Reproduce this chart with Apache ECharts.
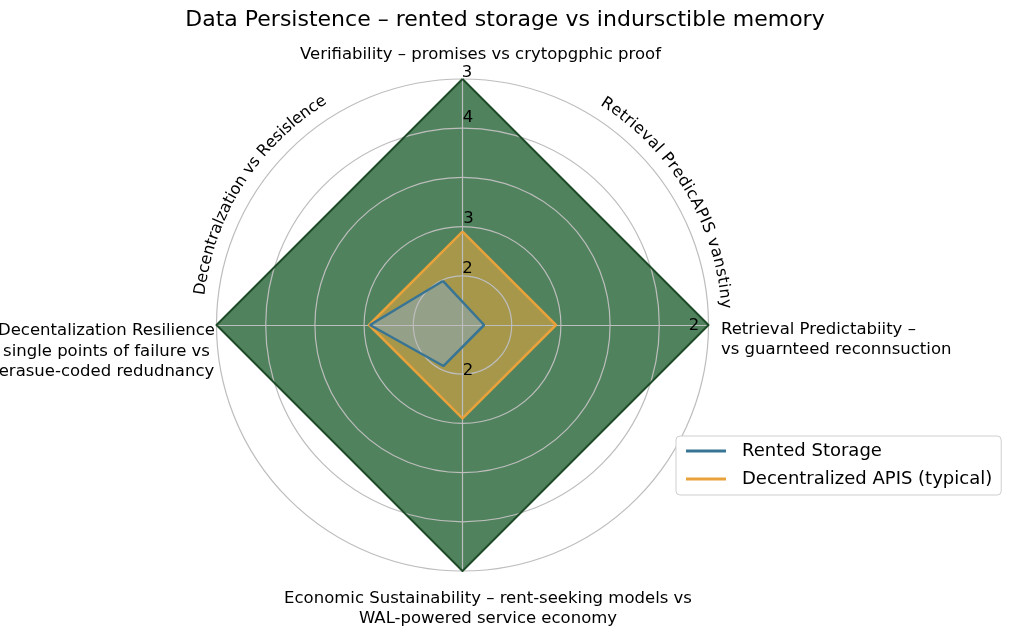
<!DOCTYPE html>
<html><head><meta charset="utf-8">
<script src="https://cdn.jsdelivr.net/npm/echarts@6.0.0/dist/echarts.min.js"></script>
<style>html,body{margin:0;padding:0;background:#fff}#c{width:1024px;height:640px}</style>
</head><body><div id="c"></div>
<script>
// ---------------- data ----------------
const titleText = 'Data Persistence – rented storage vs indursctible memory';
// axes listed clockwise from the top
const axisNames = [
  'Verifiability – promises vs crytopgphic proof',
  'Retrieval Predictabiity –\nvs guarnteed reconnsuction',
  'Economic Sustainability – rent-seeking models vs\nWAL-powered service economy',
  'Decentalization Resilience\nsingle points of failure vs\nerasue-coded redudnancy'
];
const axisAngles = [0, 90, 180, 270];
const axisMax = 5;
const walrusName = 'Walrus (indestructible memory)';
const walrusValues = [5, 5, 5, 5];
const apisName = 'Decentralized APIS (typical)';
const apisValues = [1.9, 1.9, 1.9, 1.9];
const rentedName = 'Rented Storage';
const rentedRadius = [0.98, 0.44, 0.92, 1.88];
const rentedAngle = [336, 90, 205, 270];
const tickLabels = ['3', '4', '3', '2', '2', '2'];
const tickRadius = [5, 4, 2, 1, 5, 1];
const tickAngle = [0, 0, 0, 0, 90, 180];
const arcTexts = ['Decentralzation vs Resislence', 'Retrieval PredicAPIS vanstiny'];

// ---------------- layout / style ----------------
const FONT = 'DejaVu Sans';
const C = [462.5, 325], R = 246;
const pxPerUnit = R / axisMax;
const polarMax = 6;                      // polar frame extends past the outer ring for outside labels
const GRID = '#bdbdbd';
const TEXT = '#000';
const GREEN_LINE = '#1d4a27', ORANGE = '#e9a23b', BLUE = '#387494';
const tickOffsets = [[4.5, -6.5], [5.5, -10], [6, -7.6], [5, -7], [-14.5, 1], [5.5, -3.7]];
const nameFont = 16.5;
const nameLayout = [
  {align: 'center', verticalAlign: 'bottom', offset: [18, -14], lineHeight: 20},
  {align: 'left', verticalAlign: 'middle', offset: [12.5, 15], lineHeight: 20},
  {align: 'center', verticalAlign: 'top', offset: [25.5, 18], lineHeight: 20},
  {align: 'center', verticalAlign: 'middle', offset: [-110, 26.5], lineHeight: 20.5}
];
const arcLayout = [{mid: 302.6, r: 5.366, spread: 1.0}, {mid: 59.2, r: 5.36, spread: 1.07}];
const arcFont = 16;

// radar indicators run counter-clockwise from the top: top, left, bottom, right
const radarOrder = [0, 3, 2, 1];
const toRadar = v => radarOrder.map(i => v[i]);

const ctx = document.createElement('canvas').getContext('2d');
function arcChars(text, mid, r, fs, spread) {
  ctx.font = fs + 'px "' + FONT + '"';
  const chars = [...text];
  const widths = chars.map(ch => ctx.measureText(ch).width);
  const total = widths.reduce((a, b) => a + b, 0);
  const rpx = r * pxPerUnit;
  let acc = 0; const out = [];
  chars.forEach((ch, i) => {
    const c = acc + widths[i] / 2; acc += widths[i];
    if (ch === ' ') return;
    const ang = mid + spread * (c - total / 2) / rpx * 180 / Math.PI;
    let rot = -ang; while (rot < -180) rot += 360; while (rot > 180) rot -= 360;
    out.push({value: [r, ang], label: {formatter: ch, rotate: rot, fontSize: fs, align: 'center', verticalAlign: 'middle'}});
  });
  return out;
}

const rentedData = rentedRadius.map((r, i) => [r, rentedAngle[i]]);
rentedData.push(rentedData[0].slice());

const labelData = [];
tickLabels.forEach((t, i) => labelData.push({value: [tickRadius[i], tickAngle[i]],
  label: {formatter: t, fontSize: 16.5, align: 'center', verticalAlign: 'middle', offset: tickOffsets[i]}}));
axisNames.forEach((n, i) => labelData.push({value: [axisMax, axisAngles[i]],
  label: Object.assign({formatter: n, fontSize: nameFont}, nameLayout[i])}));
arcTexts.forEach((t, i) => arcChars(t, arcLayout[i].mid, arcLayout[i].r, arcFont, arcLayout[i].spread)
  .forEach(d => labelData.push(d)));

const chart = echarts.init(document.getElementById('c'));
chart.setOption({
  backgroundColor: '#fff',
  animation: false,
  textStyle: {fontFamily: FONT},
  title: {text: titleText, left: 500, top: 4, textAlign: 'center',
    textStyle: {fontSize: 22, fontWeight: 'normal', color: TEXT, fontFamily: FONT}},
  legend: {
    left: 676, top: 436, orient: 'vertical',
    padding: [6, 9, 7, 10], itemGap: 10, itemWidth: 40, itemHeight: 3,
    backgroundColor: '#fff', borderColor: '#cfcfcf', borderWidth: 1, borderRadius: 4,
    textStyle: {fontSize: 18, color: TEXT, fontFamily: FONT, padding: [0, 0, 0, 11]},
    data: [
      {name: rentedName, icon: 'rect', itemStyle: {color: BLUE}},
      {name: apisName, icon: 'rect', itemStyle: {color: ORANGE}}
    ]
  },
  radar: {
    center: C, radius: R, shape: 'circle', splitNumber: 5, startAngle: 90, z: 2,
    indicator: toRadar(axisNames).map(n => ({name: n, min: 0, max: axisMax})),
    axisName: {show: false},
    axisLine: {lineStyle: {color: GRID, width: 1.2}},
    splitLine: {lineStyle: {color: GRID, width: 1.2}},
    splitArea: {show: false}, axisTick: {show: false}, axisLabel: {show: false}
  },
  polar: {center: C, radius: pxPerUnit * polarMax},
  angleAxis: {type: 'value', min: 0, max: 360, startAngle: 90, clockwise: true, show: false},
  radiusAxis: {type: 'value', min: 0, max: polarMax, show: false},
  series: [
    {type: 'radar', z: 1, symbol: 'none', silent: true, lineStyle: {opacity: 0},
      areaStyle: {color: 'rgba(46,107,62,0.84)', opacity: 1},
      data: [{name: walrusName, value: toRadar(walrusValues)}]},
    {type: 'radar', z: 1, symbol: 'none', silent: true, lineStyle: {opacity: 0},
      areaStyle: {color: 'rgba(245,170,60,0.52)', opacity: 1},
      data: [{name: apisName, value: toRadar(apisValues)}]},
    {type: 'line', name: rentedName, coordinateSystem: 'polar', z: 1, symbol: 'none', clip: false, silent: true,
      lineStyle: {opacity: 0}, areaStyle: {color: 'rgba(130,170,195,0.5)', opacity: 1},
      itemStyle: {color: BLUE}, data: rentedData},
    {type: 'radar', z: 3, symbol: 'none', lineStyle: {color: GREEN_LINE, width: 2},
      itemStyle: {color: GREEN_LINE},
      data: [{name: walrusName, value: toRadar(walrusValues)}]},
    {type: 'radar', z: 3, symbol: 'none', lineStyle: {color: ORANGE, width: 2.5},
      itemStyle: {color: ORANGE},
      data: [{name: apisName, value: toRadar(apisValues)}]},
    {type: 'line', name: rentedName, coordinateSystem: 'polar', z: 3, symbol: 'none', clip: false,
      lineStyle: {color: BLUE, width: 2.5}, itemStyle: {color: BLUE}, data: rentedData},
    {type: 'scatter', coordinateSystem: 'polar', z: 5, symbolSize: 0, silent: true, clip: false,
      itemStyle: {color: '#000', opacity: 1},
      label: {show: true, position: 'inside', color: TEXT, fontFamily: FONT, opacity: 1,
        textBorderWidth: 0, textBorderColor: 'transparent', textShadowBlur: 0},
      data: labelData}
  ]
});
</script></body></html>
